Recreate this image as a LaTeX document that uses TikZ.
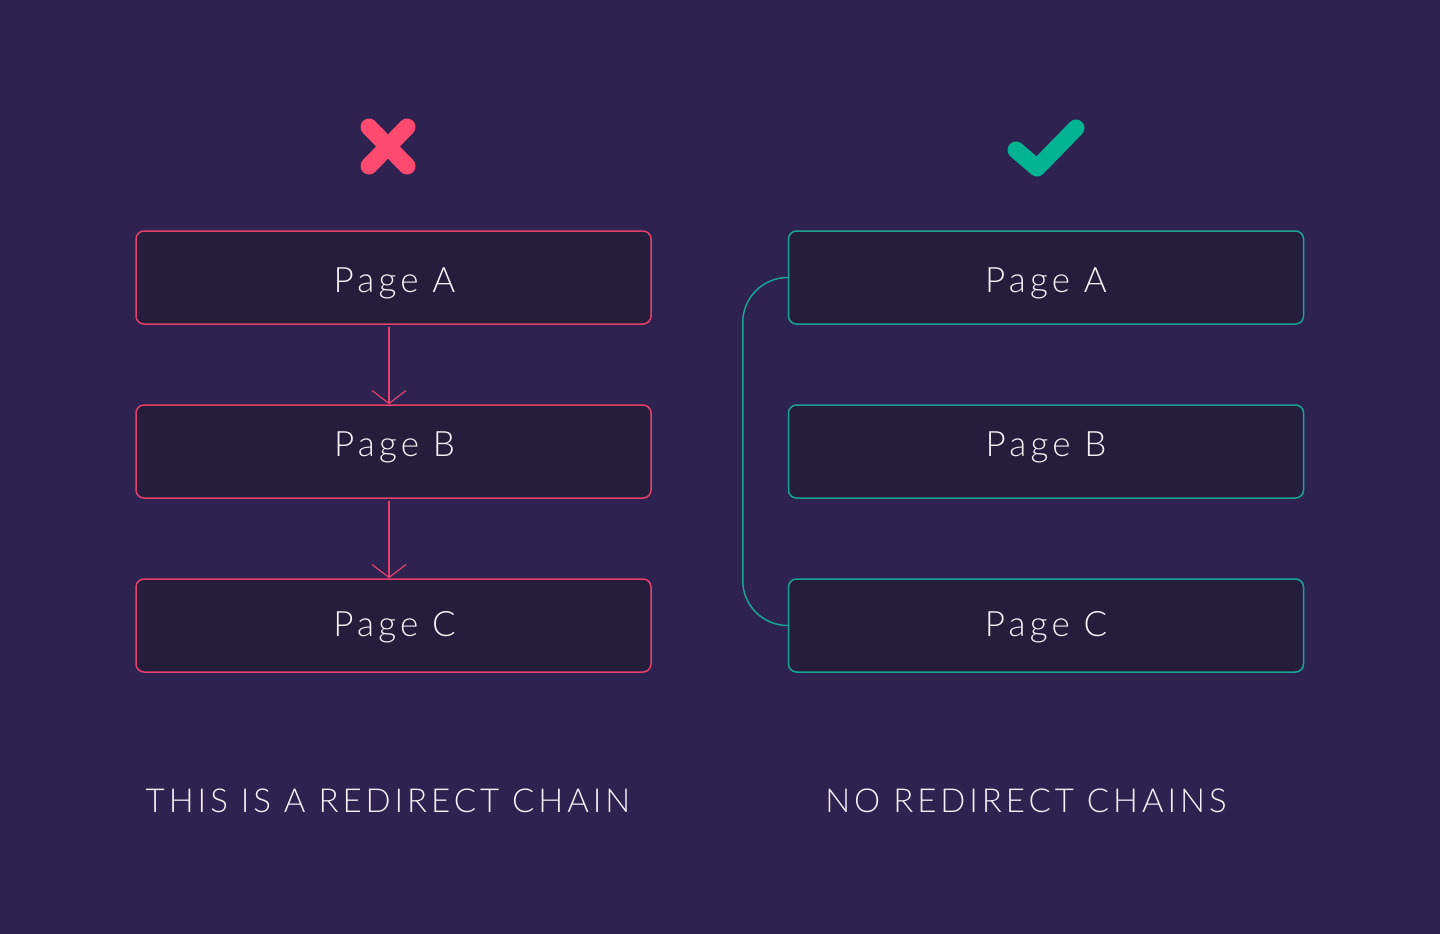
\documentclass[tikz,border=0pt]{standalone}
\usepackage{fontspec}
\usetikzlibrary{arrows.meta}
\newfontfamily\lbl{Lato Light}[LetterSpace=12]
\definecolor{bg}{HTML}{2E2350}
\definecolor{boxfill}{HTML}{251D3C}
\definecolor{pinkmark}{HTML}{FF4A70}
\definecolor{pinkline}{HTML}{E3416C}
\definecolor{tealmark}{HTML}{00B493}
\definecolor{tealline}{HTML}{18A394}
\definecolor{txt}{HTML}{F4F2F8}
\tikzset{
  pagebox/.style={draw, fill=boxfill, line width=1.5pt, rounded corners=8pt,
    minimum width=515pt, minimum height=93pt, inner sep=0pt},
  badbox/.style={pagebox, draw=pinkline},
  goodbox/.style={pagebox, draw=tealline},
  pagetext/.style={anchor=base, text=txt, font=\lbl\fontsize{35}{38}\selectfont, inner sep=0pt},
  captext/.style={anchor=base, text=txt, font=\lbl\fontsize{33}{36}\selectfont, inner sep=0pt},
  redirect/.style={draw=pinkline, line width=1.2pt, -{Straight Barb[length=13pt, width=34pt, line width=1.2pt]}},
  direct/.style={draw=tealline, line width=1.5pt, rounded corners=45pt},
  markstroke/.style={line width=17pt, line cap=round, line join=round}
}
\begin{document}
\begin{tikzpicture}[x=1pt,y=-1pt]
\fill[bg] (0,0) rectangle (1440,934);
\useasboundingbox (0,0) rectangle (1440,934);

% marks
\draw[markstroke, pinkmark] (369,127) -- (407,166);
\draw[markstroke, pinkmark] (407,127) -- (369,166);
\draw[markstroke, tealmark] (1016,150) -- (1037,168) -- (1076,128);

% left column
\node[badbox] (la) at (393.5,277.5) {};
\node[badbox] (lb) at (393.5,451.5) {};
\node[badbox] (lc) at (393.5,625.5) {};
\node[pagetext] (lat) at (394.5,292) {Page A};
\node[pagetext] (lbt) at (394.5,456) {Page B};
\node[pagetext] (lct) at (394.5,636) {Page C};

\draw[redirect, shorten <=2pt] ([xshift=-4.5pt]la.south) -- ([xshift=-4.5pt]lb.north);
\draw[redirect, shorten <=2pt] ([xshift=-4.5pt]lb.south) -- ([xshift=-4.5pt]lc.north);

% right column
\node[goodbox] (ra) at (1046,277.5) {};
\node[goodbox] (rb) at (1046,451.5) {};
\node[goodbox] (rc) at (1046,625.5) {};
\node[pagetext] (rat) at (1046,292) {Page A};
\node[pagetext] (rbt) at (1046,456) {Page B};
\node[pagetext] (rct) at (1046,636) {Page C};

\draw[direct] (ra.west) -- ++(-45,0) |- (rc.west);

% captions
\node[captext] (lcap) at (388,812) {THIS IS A REDIRECT CHAIN};
\node[captext] (rcap) at (1026,812) {NO REDIRECT CHAINS};
\end{tikzpicture}
\end{document}
